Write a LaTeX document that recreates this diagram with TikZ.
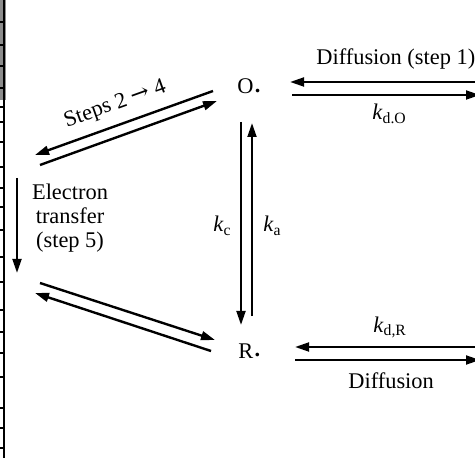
\documentclass[tikz,border=0pt]{standalone}
\usepackage{fontspec}
\setmainfont{Liberation Serif}
\newfontfamily\arrowfont{DejaVu Serif}
\usetikzlibrary{arrows.meta}
\begin{document}
\begin{tikzpicture}[x=0.5pt,y=-0.5pt,
  font=\fontsize{11.2}{12}\selectfont,
  conn/.style={line width=1.2pt,-{Triangle[length=7pt,width=4.4pt]}},
  lbl/.style={inner sep=0pt},
  electrode/.style={line width=1pt},
  hatch/.style={line width=0.6pt}]
\useasboundingbox (0,0) rectangle (474,474);
% electrode
\fill[black!45] (0,0) rectangle (6,100);
\draw[electrode] (3.5,0) -- (3.5,458);
\foreach \yy in {22,45,66,88,107,122,142,167,188,207,230,257,282,310,332,353,377,408,428,448}
  \draw[hatch] (0,\yy) -- (3.5,\yy);
% species
\node[lbl,anchor=base west] (O) at (237,94) {O\kern0.6pt\raisebox{0.15ex}{\bfseries.}};
\node[lbl,anchor=base west] (R) at (238,358) {R\kern0.6pt\raisebox{0.15ex}{\bfseries.}};
% coordinates of arrow ends
\coordinate (sA) at (213,91);  \coordinate (sB) at (35,155);
\coordinate (sC) at (40,165);  \coordinate (sD) at (217,101);
\coordinate (bA) at (40,283);  \coordinate (bB) at (215,340);
\coordinate (bC) at (211,351); \coordinate (bD) at (35,293);
\coordinate (eA) at (17,178);  \coordinate (eB) at (17,273);
\coordinate (cA) at (241,122); \coordinate (cB) at (241,325);
\coordinate (aA) at (252,316); \coordinate (aB) at (252,123);
\coordinate (tA) at (482,82);  \coordinate (tB) at (290,82);
\coordinate (tC) at (292,95);  \coordinate (tD) at (480,95);
\coordinate (rA) at (482,347); \coordinate (rB) at (295,347);
\coordinate (rC) at (295,360); \coordinate (rD) at (480,360);
% connectors
\draw[conn] (sA) -- (sB);
\draw[conn] (sC) -- (sD);
\path (sB) -- (sA) node[lbl,pos=0.49,sloped,above=5pt] (steps) {Steps 2 {\arrowfont →} 4};
\draw[conn] (bA) -- (bB);
\draw[conn] (bC) -- (bD);
\draw[conn] (eA) -- (eB);
\node[lbl,align=center] (et) at (70,218) {Electron\\transfer\\(step 5)};
\draw[conn] (cA) -- (cB);
\draw[conn] (aA) -- (aB);
\node[lbl,anchor=base west] (kc) at (213,232) {\textit{k}\textsubscript{c}};
\node[lbl,anchor=base west] (ka) at (263,232) {\textit{k}\textsubscript{a}};
\draw[conn] (tA) -- (tB);
\draw[conn] (tC) -- (tD);
\node[lbl,anchor=base west] (dif1) at (316,65) {Diffusion (step 1)};
\node[lbl,anchor=base west] (kdo) at (372,120) {\textit{k}\textsubscript{d.O}};
\draw[conn] (rA) -- (rB);
\draw[conn] (rC) -- (rD);
\node[lbl,anchor=base west] (kdr) at (373,332) {\textit{k}\textsubscript{d,R}};
\node[lbl,anchor=base west] (dif2) at (348,388) {Diffusion};
\end{tikzpicture}
\end{document}
